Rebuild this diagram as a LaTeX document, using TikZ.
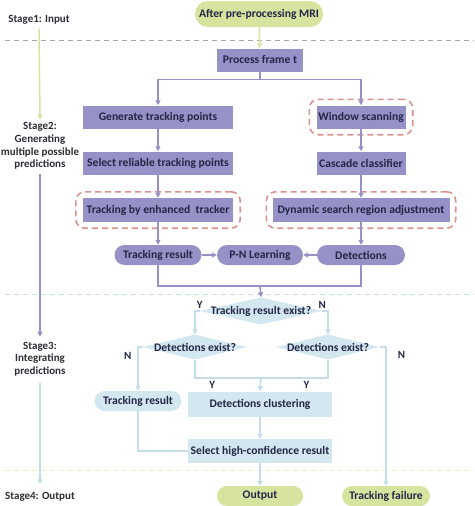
\documentclass[tikz,border=0pt]{standalone}
\usepackage{fontspec}
\setmainfont{Carlito}
\usetikzlibrary{arrows.meta,shapes.geometric,fit}

\definecolor{boxpurple}{RGB}{150,145,198}
\definecolor{boxblue}{RGB}{210,231,239}
\definecolor{lineblue}{RGB}{196,221,231}
\definecolor{boxgreen}{RGB}{214,228,160}
\definecolor{markred}{RGB}{216,146,143}
\definecolor{textdark}{RGB}{35,38,70}
\definecolor{stagetext}{RGB}{45,45,55}

\tikzset{
  box/.style={rectangle, inner sep=0pt, font=\bfseries\fontsize{11.6}{13}\selectfont, text=textdark},
  pbox/.style={box, fill=boxpurple},
  bbox/.style={box, fill=boxblue},
  pill/.style={box, rounded corners=10pt, minimum width=87pt, minimum height=20pt},
  dia/.style={diamond, fill=boxblue, inner sep=0pt, label={[font=\bfseries\fontsize{11.6}{13}\selectfont, text=textdark]center:#1}},
  hilite/.style={draw=markred, line width=1.6pt, dash pattern=on 6pt off 4pt, rounded corners=9pt, inner xsep=7pt, inner ysep=6pt},
  arr/.style={-{Triangle[length=5pt,width=5pt]}},
  stage/.style={font=\bfseries\fontsize{11}{12.6}\selectfont, text=stagetext, align=center, inner sep=1pt},
  yn/.style={font=\bfseries\fontsize{11}{13}\selectfont, text=textdark, inner sep=1pt}
}

\begin{document}
\begin{tikzpicture}[x=1pt,y=-1pt]
  \useasboundingbox (0,0) rectangle (474,506);

  % stage separators
  \draw[gray!70, line width=1pt, dash pattern=on 5pt off 4pt] (5,40) -- (474,40);
  \draw[lineblue, line width=1pt, dash pattern=on 5pt off 4pt] (5,294) -- (474,294);
  \draw[boxgreen!60, line width=1pt, dash pattern=on 5pt off 4pt] (5,470) -- (474,470);

  % stages
  \node[stage] (s1) at (39,20) {Stage1: Input};
  \node[stage] (s2) at (40,146) {Stage2:\\Generating\\multiple possible\\predictions};
  \node[stage] (s3) at (40,359) {Stage3:\\Integrating\\predictions};
  \node[stage] (s4) at (40,497) {Stage4: Output};
  \draw[arr, boxgreen, line width=1.5pt] ([yshift=-3pt]s1.south) -- ([yshift=2pt]s2.north);
  \draw[arr, boxpurple, line width=1.5pt] ([yshift=-3pt]s2.south) -- ([yshift=4pt]s3.north);
  \draw[arr, lineblue, line width=1.5pt] ([yshift=-6pt]s3.south) -- ([yshift=7pt]s4.north);

  % stage 1 and 2
  \node[box, fill=boxgreen, rounded corners=13pt, minimum width=128pt, minimum height=26pt] (mri) at (259,14) {After pre-processing MRI};
  \begin{scope}[every node/.append style={pbox, minimum height=23pt}]
    \node[minimum width=86pt] (frame) at (260,60) {Process frame t};
    \node[minimum width=150pt] (gen) at (158,117) {Generate tracking points};
    \node[minimum width=89pt] (win) at (361,117) {Window scanning};
    \node[minimum width=150pt] (sel) at (158,163) {Select reliable tracking points};
    \node[minimum width=89pt] (cas) at (361,163) {Cascade classifier};
    \node[minimum width=150pt, minimum height=24pt] (trk) at (158,210) {Tracking by enhanced\ \ tracker};
    \node[minimum width=177pt, minimum height=24pt] (dyn) at (361,210) {Dynamic search region adjustment};
  \end{scope}
  \node[pill, fill=boxpurple] (tres) at (158,255) {Tracking result};
  \node[pill, fill=boxpurple, minimum width=86pt] (pn) at (260,255) {P-N Learning};
  \node[pill, fill=boxpurple, minimum width=88pt] (det) at (361,255) {Detections};

  \node[hilite, fit=(win)] {};
  \node[hilite, fit=(trk)] {};
  \node[hilite, inner xsep=6pt, fit=(dyn)] {};

  \draw[arr, boxgreen, line width=1.5pt] (mri) -- (frame);
  \begin{scope}[every path/.append style={arr, boxpurple, line width=1.5pt}]
    \draw (frame.south) -- ++(0,8) -| (gen.north);
    \draw (frame.south) -- ++(0,8) -| (win.north);
    \draw (gen) -- (sel);
    \draw (sel) -- (trk);
    \draw (win) -- (cas);
    \draw (cas) -- (dyn);
    \draw (trk) -- (tres);
    \draw (dyn) -- (det);
    \draw (tres) -- (pn);
    \draw (det) -- (pn);
    \coordinate (join) at (260,286);
    \draw[-] (tres.south) |- (join) -| (det.south);
  \end{scope}

  % stage 3
  \node[dia={Tracking result exist?}, minimum width=122pt, minimum height=27pt] (dec1) at (261,311) {};
  \node[dia={Detections exist?}, minimum width=104pt, minimum height=25pt] (dec2) at (195,347) {};
  \node[dia={Detections exist?}, minimum width=103pt, minimum height=25pt] (dec3) at (328,347) {};
  \node[pill, fill=boxblue] (tres2) at (138,401) {Tracking result};
  \node[bbox, minimum width=144pt, minimum height=25pt] (clus) at (260,404) {Detections clustering};
  \node[bbox, minimum width=144pt, minimum height=24pt] (high) at (260,451) {Select high-confidence result};

  % stage 4
  \node[pill, fill=boxgreen, minimum width=86pt] (out) at (260,496) {Output};
  \node[pill, fill=boxgreen, minimum width=88pt] (fail) at (386,496) {Tracking failure};

  \draw[arr, boxpurple, line width=1.5pt] (join) -- (dec1.north);
  \begin{scope}[every path/.append style={arr, lineblue, line width=1.5pt}]
    \draw (dec1.west) -| (dec2.north);
    \draw (dec1.east) -| (dec3.north);
    \draw (dec2.west) -| node[yn, pos=0.6, left=5pt] {N} (tres2.north);
    \draw (dec3.east) -| node[yn, pos=0.53, right=10pt] {N} (fail.north);
    \coordinate (join2) at (261,378);
    \draw[-] (dec2.south) |- node[yn, pos=0.63, below=2pt] {Y} (join2);
    \draw[-] (dec3.south) |- node[yn, pos=0.66, below=2pt] {Y} (join2);
    \draw (join2) -- (clus.north);
    \draw (clus) -- (high);
    \draw[-] (tres2.south) |- (high.west);
    \draw (high) -- (out);
  \end{scope}
  \node[yn, above=1pt] at (dec1.west) {Y};
  \node[yn, above=1pt] at (dec1.east) {N};
\end{tikzpicture}
\end{document}
